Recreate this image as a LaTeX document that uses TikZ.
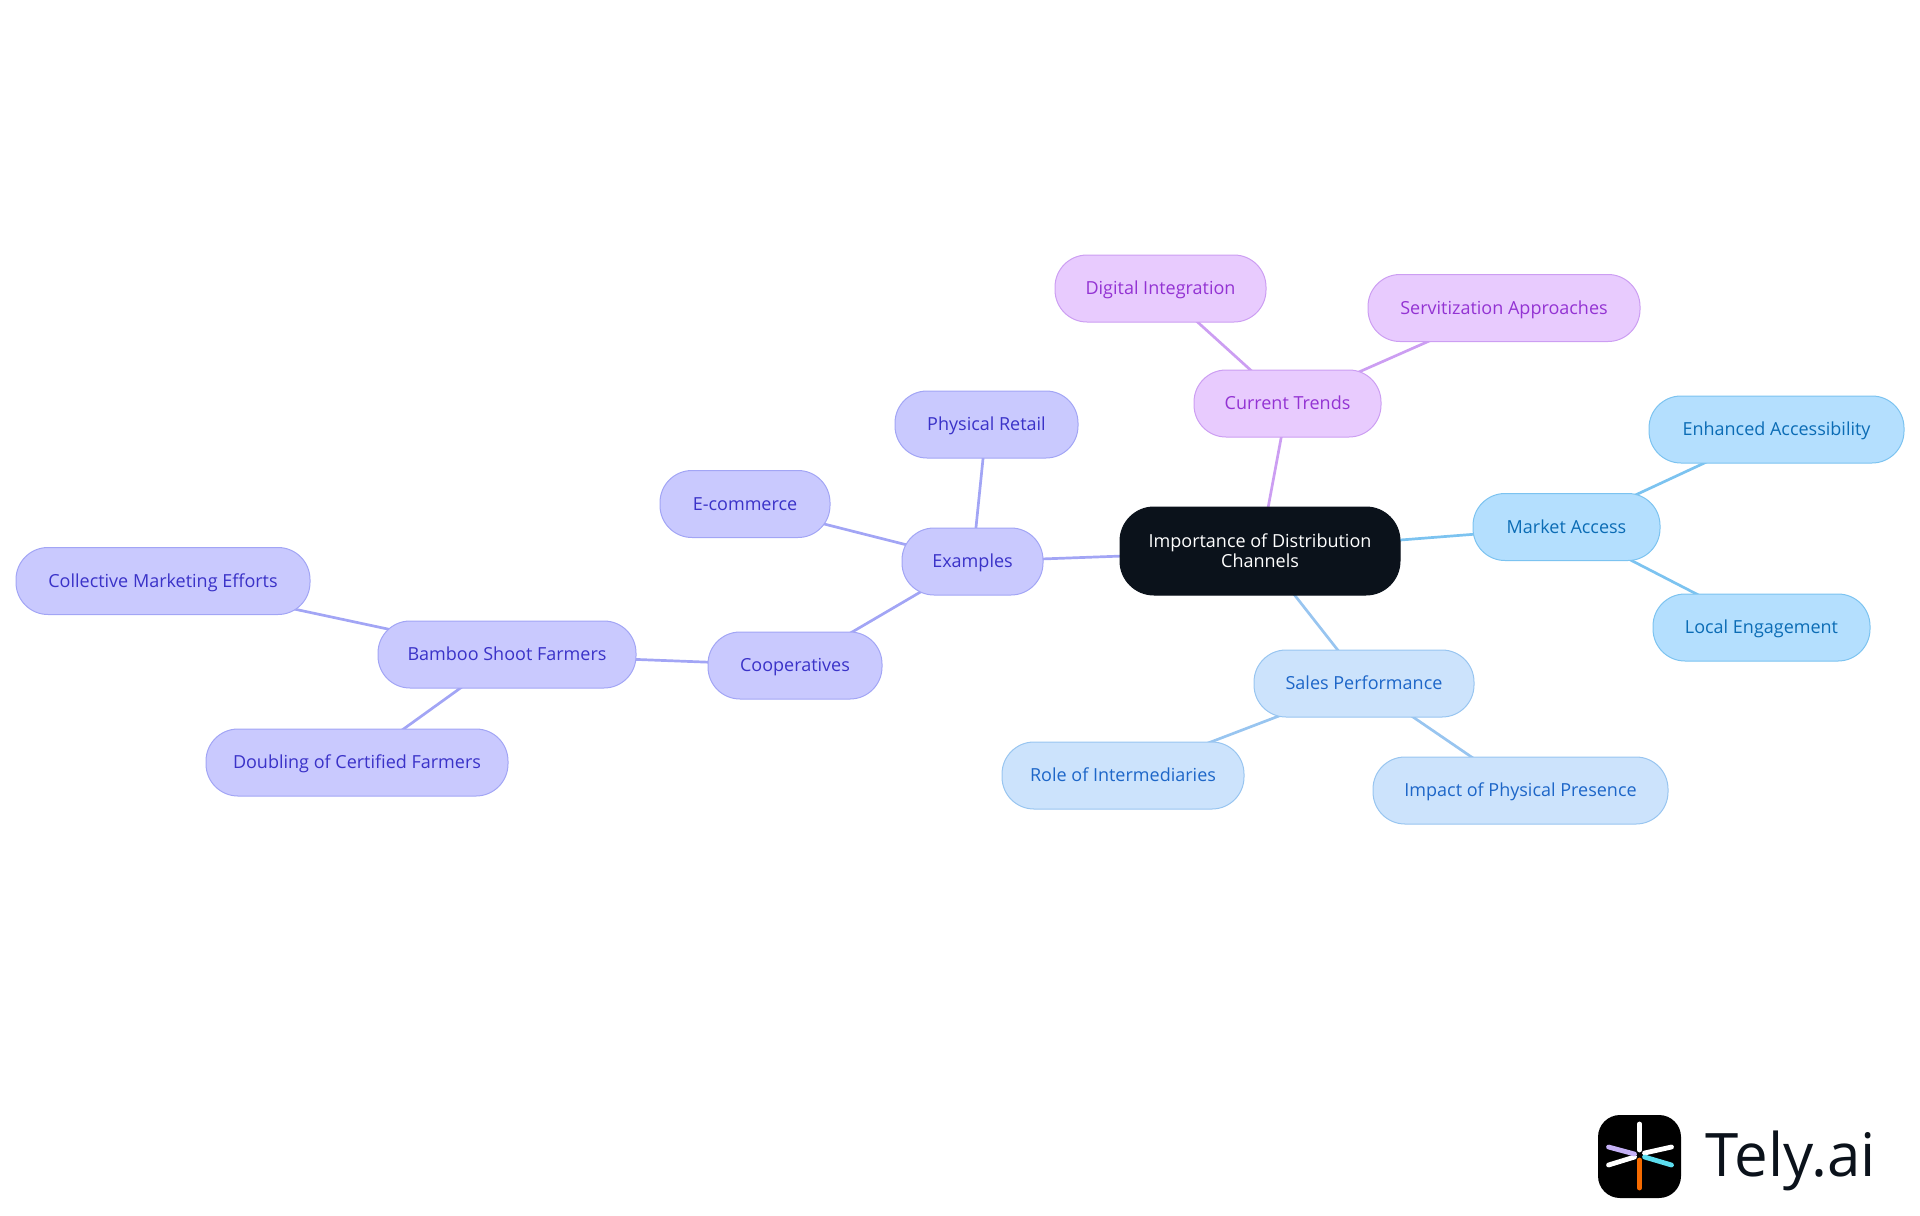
\documentclass[tikz,border=0pt]{standalone}
\usepackage{fontspec}
\setmainfont{Open Sans}
\usepackage{xcolor}
\usetikzlibrary{backgrounds}
\definecolor{ink}{HTML}{0B121B}
\definecolor{violetfill}{HTML}{C9C9FE}
\definecolor{violetline}{HTML}{A2A5F5}
\definecolor{violettext}{HTML}{3A32C8}
\definecolor{purplefill}{HTML}{E8CBFE}
\definecolor{purpleline}{HTML}{CC9EF2}
\definecolor{purpletext}{HTML}{9333D3}
\definecolor{skyfill}{HTML}{B4DFFE}
\definecolor{skyline}{HTML}{7CC3F0}
\definecolor{skytext}{HTML}{0B6CB5}
\definecolor{bluefill}{HTML}{CCE3FC}
\definecolor{blueline}{HTML}{98C5F0}
\definecolor{bluetext}{HTML}{1D66C8}
\definecolor{spokeviolet}{HTML}{C4B0F5}
\definecolor{spokecyan}{HTML}{5CDDEE}
\definecolor{spokeorange}{HTML}{F56A00}
\tikzset{
  x=.5pt,y=-.5pt,
  topicbox/.style={
    rounded corners=16pt,line width=.5pt,inner sep=0pt,
    minimum height=33.5pt,align=center,font=\fontsize{9}{10}\selectfont
  },
  leafbox/.style={topicbox,text height=7.6pt,text depth=1.3pt},
  rootbox/.style={topicbox,draw=ink,fill=ink,text=white,minimum height=44pt,rounded corners=17pt},
  violetbox/.style={leafbox,draw=violetline,fill=violetfill,text=violettext},
  purplebox/.style={leafbox,draw=purpleline,fill=purplefill,text=purpletext},
  skybox/.style={leafbox,draw=skyline,fill=skyfill,text=skytext},
  bluebox/.style={leafbox,draw=blueline,fill=bluefill,text=bluetext},
  link/.style={line width=1.35pt},
  spoke/.style={line width=2.4pt,line cap=round}
}
\begin{document}
\begin{tikzpicture}
\useasboundingbox (0,0) rectangle (1920,1215);
\node[rootbox,minimum width=140pt] (root) at (1260,551) {Importance of Distribution\\Channels};
% violet branch
\node[violetbox,minimum width=70.5pt] (examples) at (972.5,561.5) {Examples};
\node[violetbox,minimum width=91.5pt] (retail) at (986.5,424.5) {Physical Retail};
\node[violetbox,minimum width=85pt] (ecommerce) at (745,504) {E-commerce};
\node[violetbox,minimum width=87pt] (coop) at (795,665.5) {Cooperatives};
\node[violetbox,minimum width=129pt] (bamboo) at (507,654.5) {Bamboo Shoot Farmers};
\node[violetbox,minimum width=147pt] (collective) at (163,581) {Collective Marketing Efforts};
\node[violetbox,minimum width=151pt] (doubling) at (357,762.5) {Doubling of Certified Farmers};
% purple branch
\node[purplebox,minimum width=93.5pt] (trends) at (1287.5,403.5) {Current Trends};
\node[purplebox,minimum width=105.5pt] (digital) at (1160.5,288.5) {Digital Integration};
\node[purplebox,minimum width=136pt] (servitization) at (1504,308) {Servitization Approaches};
% sky branch
\node[skybox,minimum width=93.5pt] (market) at (1566.5,527) {Market Access};
\node[skybox,minimum width=127.5pt] (enhanced) at (1776.5,429.5) {Enhanced Accessibility};
\node[skybox,minimum width=108.5pt] (local) at (1761.5,627.5) {Local Engagement};
% blue branch
\node[bluebox,minimum width=110pt] (sales) at (1364,683.5) {Sales Performance};
\node[bluebox,minimum width=121pt] (role) at (1123,775.5) {Role of Intermediaries};
\node[bluebox,minimum width=147.5pt] (impact) at (1520.5,790.5) {Impact of Physical Presence};
\begin{scope}[on background layer]
\draw[link,violetline] (root.center)--(examples.center);
\draw[link,violetline] (examples.center)--(retail.center);
\draw[link,violetline] (examples.center)--(ecommerce.center);
\draw[link,violetline] (examples.center)--(coop.center);
\draw[link,violetline] (coop.center)--(bamboo.center);
\draw[link,violetline] (bamboo.center)--(collective.center);
\draw[link,violetline] (bamboo.center)--(doubling.center);
\draw[link,purpleline] (root.center)--(trends.center);
\draw[link,purpleline] (trends.center)--(digital.center);
\draw[link,purpleline] (trends.center)--(servitization.center);
\draw[link,skyline] (root.center)--(market.center);
\draw[link,skyline] (market.center)--(enhanced.center);
\draw[link,skyline] (market.center)--(local.center);
\draw[link,blueline] (root.center)--(sales.center);
\draw[link,blueline] (sales.center)--(role.center);
\draw[link,blueline] (sales.center)--(impact.center);
\end{scope}
% logo
\node[fill=black,rounded corners=11pt,minimum size=41.5pt,inner sep=0pt] (logo) at (1639.5,1156.5) {};
\coordinate (hub) at (1639.5,1155);
\draw[spoke,white] (hub)++(0,-5)--++(0,-26);
\draw[spoke,white] (hub)++(5,-2)--++(27,-6);
\draw[spoke,white] (hub)++(-5,2)--++(-26,8);
\draw[spoke,spokeviolet] (hub)++(-5,-1)--++(-26,-7);
\draw[spoke,spokecyan] (hub)++(5,2)--++(27,8);
\draw[spoke,spokeorange] (hub)++(0,5)--++(0,28);
\node[anchor=west,inner sep=0pt,text=ink,font=\fontsize{30}{30}\selectfont] (brand) at (1705,1161) {Tely.ai};
\end{tikzpicture}
\end{document}
